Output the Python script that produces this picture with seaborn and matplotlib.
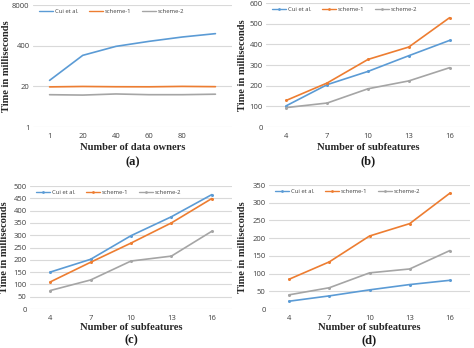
import matplotlib
matplotlib.use("Agg")
import matplotlib.pyplot as plt
import seaborn as sns
import pandas as pd
from matplotlib.ticker import FixedLocator, NullLocator

sns.set_theme(style="white")

SERIES = ["Cui et al.", "scheme-1", "scheme-2"]
COLORS = ["#5B9BD5", "#ED7D31", "#A5A5A5"]

# (a) varying number of data owners (log-20 axis)
owners_labels = ["1", "20", "40", "60", "80", ""]
a_cui = [31, 196, 380, 550, 757, 970]
a_s1 = [19.2, 19.8, 19.4, 19.3, 19.9, 19.5]
a_s2 = [10.8, 10.5, 11.4, 10.8, 10.8, 11.2]

# (b)-(d) varying number of subfeatures
subfeatures = ["4", "7", "10", "13", "16"]
b_cui = [103, 205, 269, 345, 419]
b_s1 = [129, 213, 327, 387, 529]
b_s2 = [94, 116, 185, 223, 287]

c_cui = [150, 202, 298, 375, 465]
c_s1 = [110, 190, 268, 350, 449]
c_s2 = [75, 118, 195, 215, 316]

d_cui = [22, 37, 54, 69, 81]
d_s1 = [84, 133, 206, 241, 327]
d_s2 = [40, 60, 102, 113, 165]

SERIF = ["Liberation Serif", "DejaVu Serif"]
SANS = ["Open Sans", "DejaVu Sans"]


def long_frame(labels, values):
    rows = []
    for name, vals in zip(SERIES, values):
        for i, (lab, v) in enumerate(zip(labels, vals)):
            rows.append({"pos": i, "label": lab, "series": name, "value": v})
    return pd.DataFrame(rows)


fig = plt.figure(figsize=(4.74, 3.48), dpi=100)

W, H = 474.0, 348.0


def axes_px(left, right, top, bottom):
    return fig.add_axes([left / W, 1 - bottom / H, (right - left) / W, (bottom - top) / H])


panels = [
    dict(rect=(33, 232, 5, 127), labels=owners_labels, vals=(a_cui, a_s1, a_s2),
         xlabel="Number of data owners", tag="(a)", log=True, ylim=(1, 8000),
         yticks=[1, 20, 400, 8000], markers=False, ylab_x=7, offs=(21, 35)),
    dict(rect=(266, 470, 3, 127), labels=subfeatures, vals=(b_cui, b_s1, b_s2),
         xlabel="Number of subfeatures", tag="(b)", log=False, ylim=(0, 600),
         yticks=list(range(0, 601, 100)), markers=True, ylab_x=243, offs=(20, 34)),
    dict(rect=(30, 232, 186, 309), labels=subfeatures, vals=(c_cui, c_s1, c_s2),
         xlabel="Number of subfeatures", tag="(c)", log=False, ylim=(0, 500),
         yticks=list(range(0, 501, 50)), markers=True, ylab_x=5, offs=(18, 31)),
    dict(rect=(269, 470, 185, 309), labels=subfeatures, vals=(d_cui, d_s1, d_s2),
         xlabel="Number of subfeatures", tag="(d)", log=False, ylim=(0, 350),
         yticks=list(range(0, 351, 50)), markers=True, ylab_x=243, offs=(18, 31)),
]

for p in panels:
    left, right, top, bottom = p["rect"]
    ax = axes_px(left, right, top, bottom)
    df = long_frame(p["labels"], p["vals"])
    if p["log"]:
        ax.set_yscale("log", base=20)
    sns.lineplot(data=df, x="pos", y="value", hue="series", palette=COLORS,
                 hue_order=SERIES, ax=ax, linewidth=1.2,
                 marker="o" if p["markers"] else None, markersize=2.2,
                 markeredgewidth=0, legend=False)
    n = len(p["labels"])
    ax.set_xlim(-0.5, n - 0.5)
    ax.set_ylim(*p["ylim"])
    ax.xaxis.set_major_locator(FixedLocator(range(n)))
    ax.set_xticklabels(p["labels"])
    ax.yaxis.set_major_locator(FixedLocator(p["yticks"]))
    ax.yaxis.set_minor_locator(NullLocator())
    ax.set_yticklabels([str(int(t)) for t in p["yticks"]])
    for lab in ax.get_xticklabels() + ax.get_yticklabels():
        lab.set_fontfamily(SANS)
        lab.set_fontsize(5.5)
        lab.set_color("#404040")
    ax.tick_params(axis="both", length=0, pad=2.5)
    ax.tick_params(axis="x", pad=4)
    ax.grid(axis="y", color="#D9D9D9", linewidth=0.8)
    ax.grid(axis="x", visible=False)
    for s in ax.spines.values():
        s.set_visible(False)
    ax.set_facecolor("none")
    ax.set_xlabel("")
    ax.set_ylabel("")

    # legend across the top
    handles = [plt.Line2D([], [], color=c, lw=1.0,
                          marker="o" if p["markers"] else None,
                          markersize=2, markeredgewidth=0) for c in COLORS]
    leg = ax.legend(handles, SERIES, ncol=3, loc="upper left",
                    bbox_to_anchor=(0.01, 1.0), frameon=False,
                    prop={"family": SANS, "size": 4.2}, handlelength=2.4,
                    handletextpad=0.3, columnspacing=1.8, borderaxespad=0.3)
    for t in leg.get_texts():
        t.set_color("#404040")

    cx = (left + right) / 2
    xo, to = p["offs"]
    fig.text(cx / W, 1 - (bottom + xo) / H, p["xlabel"], ha="center", va="center",
             family=SERIF, fontweight="bold", fontsize=7.6, color="#262626")
    fig.text(cx / W, 1 - (bottom + to) / H, p["tag"], ha="center", va="center",
             family=SERIF, fontweight="bold", fontsize=9, color="#1a1a1a")
    fig.text(p["ylab_x"] / W, 1 - ((top + bottom) / 2) / H, "Time in milliseconds",
             rotation=90, ha="center", va="center", family=SERIF,
             fontweight="bold", fontsize=7.6, color="#262626")

fig.savefig("out.png", dpi=100, facecolor="white")
